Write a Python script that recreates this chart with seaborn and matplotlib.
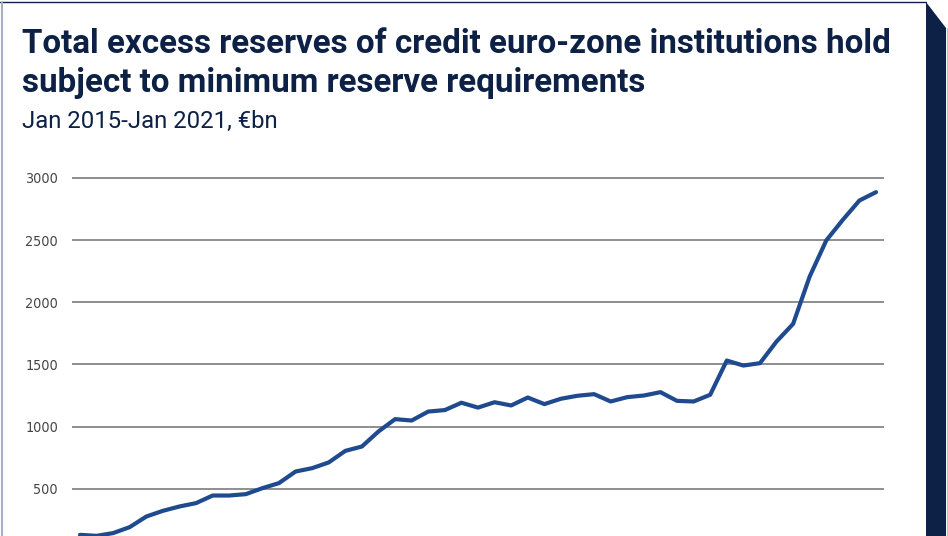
import numpy as np
import pandas as pd
import matplotlib
matplotlib.use("Agg")
import matplotlib.pyplot as plt
import seaborn as sns
from matplotlib.patches import Polygon
from matplotlib.lines import Line2D

# excess reserves per maintenance period, Jan 2015 - Jan 2021 (EUR bn)
reserves = [130, 122, 144, 192, 277, 323, 358, 385, 446, 446,
            457, 505, 546, 639, 666, 712, 805, 840, 961, 1060,
            1049, 1121, 1133, 1192, 1153, 1196, 1170, 1234, 1181, 1224,
            1248, 1261, 1202, 1237, 1250, 1277, 1207, 1202, 1256, 1531,
            1491, 1510, 1684, 1826, 2207, 2497, 2663, 2818, 2885]
period = list(range(len(reserves)))
yticks = [500, 1000, 1500, 2000, 2500, 3000]

df = pd.DataFrame({"period": period, "reserves": reserves})

navy = "#0c2145"
line_col = "#1f4b8e"

sns.set_style("white")
fig = plt.figure(figsize=(9.48, 5.36), dpi=100)

W, H = 948.0, 536.0
# axes placed so that 0 sits just under the visible area (chart is cropped)
ax = fig.add_axes([72 / W, (H - 551) / H, 812 / W, (551 - 165.4) / H])
sns.lineplot(data=df, x="period", y="reserves", ax=ax, color=line_col,
             linewidth=3.0, solid_capstyle="round", solid_joinstyle="round")

ax.set_xlim(-0.48, 48.48)
ax.set_ylim(0, 3100)
ax.set_yticks(yticks)
ax.set_yticklabels([str(v) for v in yticks])
ax.set_xticks([])
ax.set_xlabel("")
ax.set_ylabel("")
for s in ax.spines.values():
    s.set_visible(False)
ax.yaxis.grid(True, color="#707070", linewidth=1.1)
ax.set_axisbelow(True)
ax.tick_params(axis="y", length=0, pad=10, labelsize=10.3, labelcolor="#444444")
for lab in ax.get_yticklabels():
    lab.set_family(["DejaVu Sans"])
    lab.set_stretch("condensed")

# titles
fig.text(22 / W, 1 - 53 / H,
         "Total excess reserves of credit euro-zone institutions hold",
         fontsize=23.9, fontweight="bold", color=navy, family="Roboto",
         ha="left", va="baseline")
fig.text(22 / W, 1 - 92 / H,
         "subject to minimum reserve requirements",
         fontsize=23.9, fontweight="bold", color=navy, family="Roboto",
         ha="left", va="baseline")
fig.text(22 / W, 1 - 128 / H, "Jan 2015-Jan 2021, \u20acbn",
         fontsize=17.2, color=navy, family="Roboto", ha="left", va="baseline")

# frame: thin top/left lines and dark band on the right
fig.add_artist(Line2D([0, 926 / W], [1 - 2 / H, 1 - 2 / H], color=navy, linewidth=1.0))
fig.add_artist(Line2D([1.5 / W, 1.5 / W], [0, 1 - 2 / H], color="#a3b0c8", linewidth=1.5))
band = [(926 / W, 1 - 2 / H), (946 / W, 1 - 28 / H), (946 / W, 0), (926 / W, 0)]
fig.add_artist(Polygon(band, closed=True, facecolor=navy, edgecolor="none"))
fig.add_artist(Line2D([947 / W, 947 / W], [0, 1 - 28 / H], color="#b8c4d8", linewidth=1.0))

fig.savefig("out.png", dpi=100)
